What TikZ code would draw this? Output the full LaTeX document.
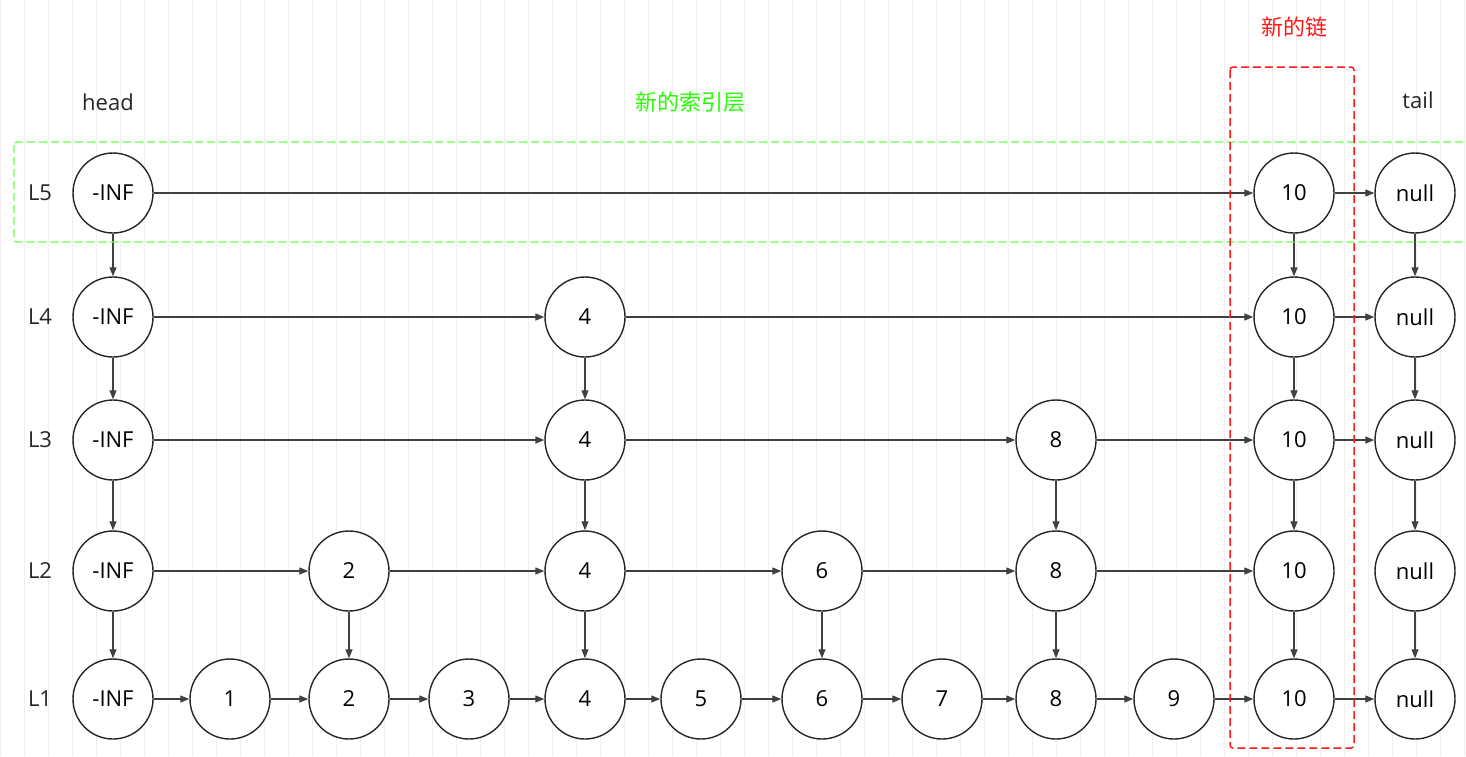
\documentclass[tikz,border=0pt]{standalone}
\usepackage{fontspec}
\setmainfont{Open Sans}
\newfontfamily\cjk{Noto Sans CJK SC}
\usetikzlibrary{arrows.meta}
\begin{document}
\begin{tikzpicture}[x=1pt,y=-1pt,
  nd/.style={circle,draw=black!85,line width=1.4pt,minimum size=80pt,inner sep=0pt,font=\fontsize{22}{26}\selectfont,fill=white},
  ar/.style={draw=black!75,line width=1.3pt,-{Triangle[length=9pt,width=7pt]}},
  lb/.style={font=\fontsize{22}{26}\selectfont,text=black!85}]
\useasboundingbox (0,0) rectangle (1466,756);
\fill[white] (0,0) rectangle (1466,756);
\draw[black!6,line width=0.6pt,step=24] (0,0) grid (1466,756);
\def\rowy{{193,317,440,571,699}}
\foreach \n/\x in {m/113,a/230,b/349,c/469,d/585,e/701,f/822,g/942,h/1056,i/1174,t/1294,z/1415}{\coordinate (X\n) at (\x,0);}
% L5
\node[nd] (m5) at (113,193) {-INF};
\node[nd] (t5) at (1294,193) {10};
\node[nd] (z5) at (1415,193) {null};
% L4
\node[nd] (m4) at (113,317) {-INF};
\node[nd] (d4) at (585,317) {4};
\node[nd] (t4) at (1294,317) {10};
\node[nd] (z4) at (1415,317) {null};
% L3
\node[nd] (m3) at (113,440) {-INF};
\node[nd] (d3) at (585,440) {4};
\node[nd] (h3) at (1056,440) {8};
\node[nd] (t3) at (1294,440) {10};
\node[nd] (z3) at (1415,440) {null};
% L2
\node[nd] (m2) at (113,571) {-INF};
\node[nd] (b2) at (349,571) {2};
\node[nd] (d2) at (585,571) {4};
\node[nd] (f2) at (822,571) {6};
\node[nd] (h2) at (1056,571) {8};
\node[nd] (t2) at (1294,571) {10};
\node[nd] (z2) at (1415,571) {null};
% L1
\node[nd] (m1) at (113,699) {-INF};
\node[nd] (a1) at (230,699) {1};
\node[nd] (b1) at (349,699) {2};
\node[nd] (c1) at (469,699) {3};
\node[nd] (d1) at (585,699) {4};
\node[nd] (e1) at (701,699) {5};
\node[nd] (f1) at (822,699) {6};
\node[nd] (g1) at (942,699) {7};
\node[nd] (h1) at (1056,699) {8};
\node[nd] (i1) at (1174,699) {9};
\node[nd] (t1) at (1294,699) {10};
\node[nd] (z1) at (1415,699) {null};
% horizontal
\foreach \p/\q in {m5/t5,t5/z5,m4/d4,d4/t4,t4/z4,m3/d3,d3/h3,h3/t3,t3/z3,m2/b2,b2/d2,d2/f2,f2/h2,h2/t2,m1/a1,a1/b1,b1/c1,c1/d1,d1/e1,e1/f1,f1/g1,g1/h1,h1/i1,i1/t1,t1/z1}
  \draw[ar] (\p) -- (\q);
% vertical
\foreach \p/\q in {m5/m4,m4/m3,m3/m2,m2/m1,d4/d3,d3/d2,d2/d1,b2/b1,f2/f1,h3/h2,h2/h1,t5/t4,t4/t3,t3/t2,t2/t1,z5/z4,z4/z3,z3/z2,z2/z1}
  \draw[ar] (\p) -- (\q);
% labels
\foreach \l/\y in {L5/193,L4/317,L3/440,L2/571,L1/699}
  \node[lb] (lab\l) at (40,\y) {\l};
\node[lb] (head) at (108,102) {head};
\node[lb] (tail) at (1418,100) {tail};
\node[font=\cjk\fontsize{22}{26}\selectfont,text=green!80!lime] (ni) at (690,102) {新的索引层};
\node[font=\cjk\fontsize{22}{26}\selectfont,text=red!90] (nl) at (1294,27) {新的链};
\draw[green!80!lime!70,dashed,line width=1.3pt,dash pattern=on 8pt off 4pt,rounded corners=3pt] (14,142) rectangle (1470,242);
\draw[red!90,dashed,line width=1.5pt,dash pattern=on 8pt off 4pt,rounded corners=3pt] (1230,67) rectangle (1354,748);
\end{tikzpicture}
\end{document}
